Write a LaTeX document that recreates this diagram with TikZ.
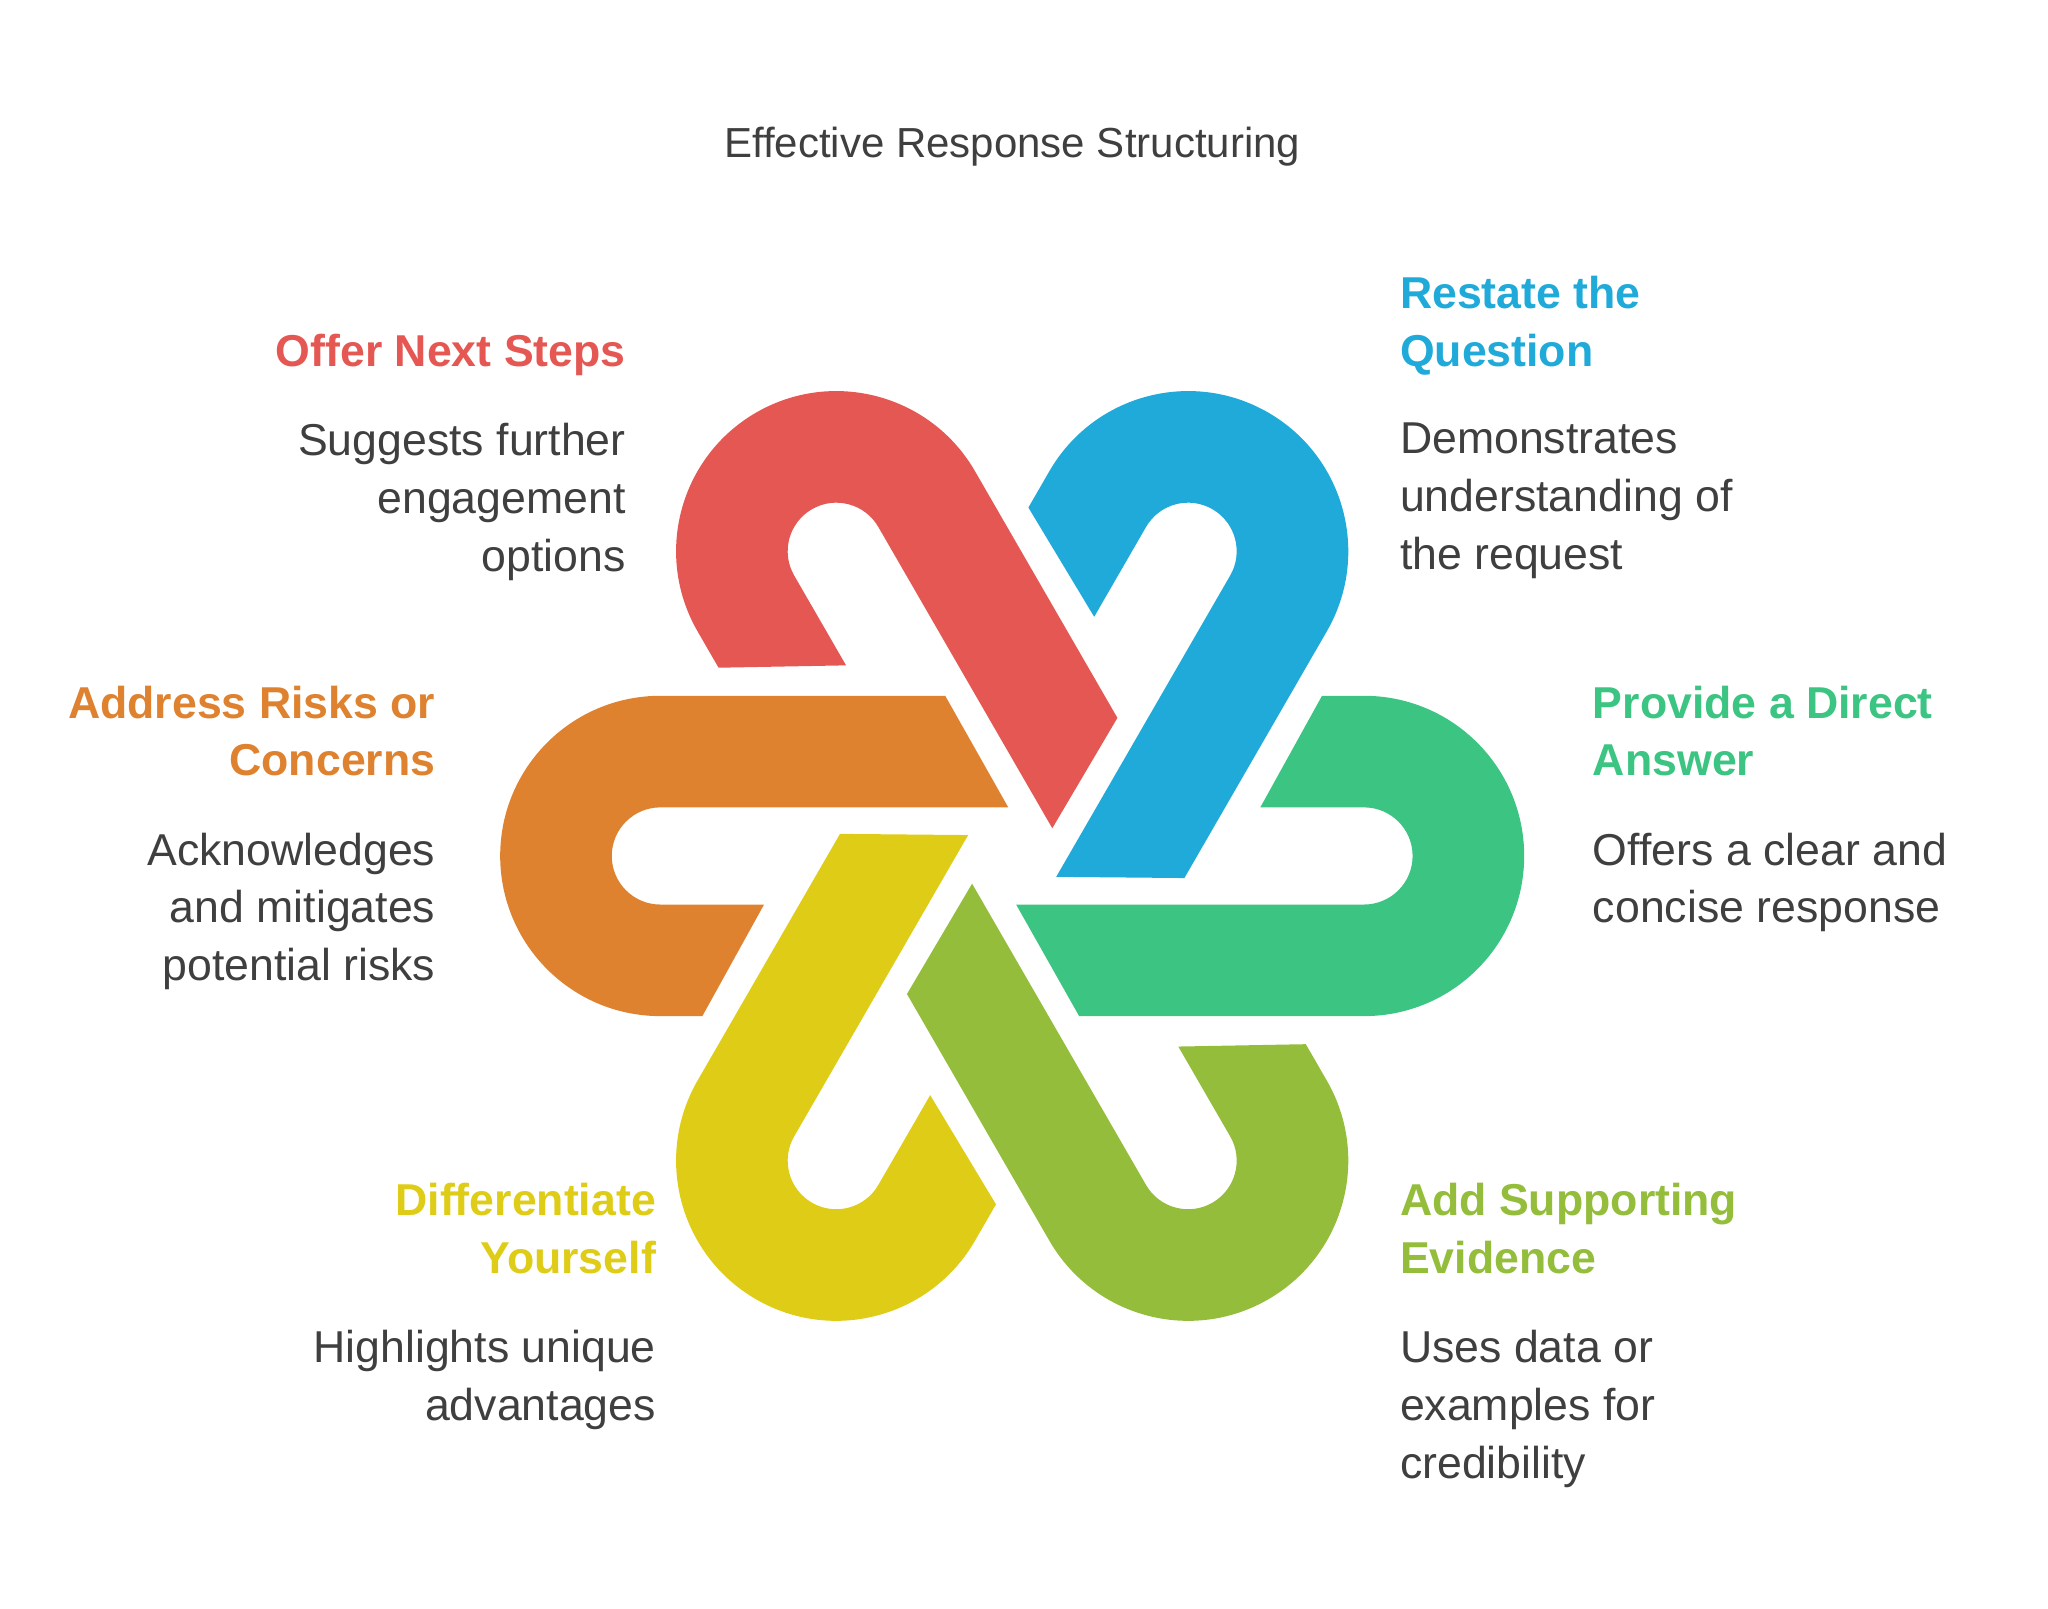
\documentclass[tikz,border=0pt]{standalone}
\usepackage{fontspec}
\setmainfont{Liberation Sans}
\definecolor{cred}{HTML}{E55753}
\definecolor{cblue}{HTML}{1FAAD9}
\definecolor{cgreen}{HTML}{3CC482}
\definecolor{corange}{HTML}{DF8230}
\definecolor{clime}{HTML}{93BD3A}
\definecolor{cyellow}{HTML}{DECC17}
\definecolor{ctext}{HTML}{3F3F3F}
\begin{document}
\begin{tikzpicture}[x=0.5pt,y=0.5pt,%
% common options for the hooks:
hook/.style = {fill=#1, draw=none},
% common options for the labels:
head/.style = {font=\fontsize{17}{22}\selectfont\bfseries, inner sep=0, text=#1},
desc/.style = {font=\fontsize{17}{22}\selectfont, inner sep=0, text=ctext}]
\useasboundingbox (0,0) rectangle (1560,-1225);
\node[font=\fontsize{16}{20}\selectfont, text=ctext] (T) at (771,-112) {Effective Response Structuring};
% the six hooks
\foreach \ang/\col in {0/corange,-60/cred,-120/cblue,-180/cgreen,-240/clime,-300/cyellow}{
  \begin{scope}[shift={(771,-652)}, rotate=\ang]
    \fill[hook=\col] (-3,37) -- (-268,37) arc (90:270:37) -- (-189,-37) -- (-236,-122)
      -- (-268,-122) arc (-90:-270:122) -- (-51,122) -- cycle;
  \end{scope}
}
% left side labels
\node[head=cred, align=right, anchor=north east] (R1) at (477,-254) {Offer Next Steps};
\node[desc, align=right, anchor=north east] (R2) at (477,-322) {Suggests further\\engagement\\options};
\node[head=corange, align=right, anchor=north east] (O1) at (332,-522) {Address Risks or\\Concerns};
\node[desc, align=right, anchor=north east] (O2) at (332,-634) {Acknowledges\\and mitigates\\potential risks};
\node[head=cyellow, align=right, anchor=north east] (Y1) at (500,-901) {Differentiate\\Yourself};
\node[desc, align=right, anchor=north east] (Y2) at (500,-1013) {Highlights unique\\advantages};
% right side labels
\node[head=cblue, align=left, anchor=north west] (B1) at (1066,-210) {Restate the\\Question};
\node[desc, align=left, anchor=north west] (B2) at (1066,-322) {Demonstrates\\understanding of\\the request};
\node[head=cgreen, align=left, anchor=north west] (G1) at (1213,-522) {Provide a Direct\\Answer};
\node[desc, align=left, anchor=north west] (G2) at (1213,-634) {Offers a clear and\\concise response};
\node[head=clime, align=left, anchor=north west] (L1) at (1066,-901) {Add Supporting\\Evidence};
\node[desc, align=left, anchor=north west] (L2) at (1066,-1013) {Uses data or\\examples for\\credibility};
\end{tikzpicture}
\end{document}
